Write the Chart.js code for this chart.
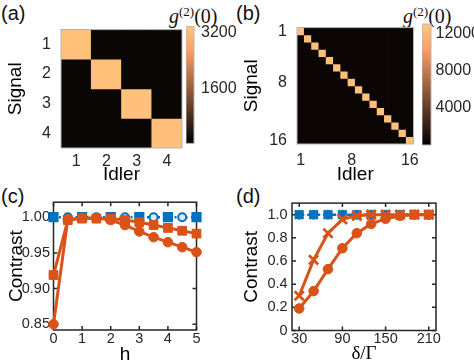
<!DOCTYPE html>
<html>
<head>
<meta charset="utf-8">
<script src="https://cdn.jsdelivr.net/npm/chart.js@4.4.0/dist/chart.umd.min.js"></script>
<style>
  html, body { margin: 0; padding: 0; background: #fff; }
  body { width: 474px; height: 364px; position: relative; overflow: hidden; font-family: "Liberation Sans", Arial, sans-serif; }
  canvas { position: absolute; }
  .lbl { position: absolute; font-size: 20px; line-height: 1; color: #111; }
  .g2 { position: absolute; font-family: "Liberation Serif", serif; font-size: 20px; line-height: 1; color: #111; white-space: nowrap; }
  .g2 sup { font-size: 13px; vertical-align: 7px; }
</style>
</head>
<body>
<div class="lbl" style="left:1px;top:3px">(a)</div>
<div class="lbl" style="left:236px;top:3px">(b)</div>
<div class="lbl" style="left:1px;top:186px">(c)</div>
<div class="lbl" style="left:236px;top:186px">(d)</div>
<div class="g2" style="left:169px;top:5px"><i>g</i><sup>(2)</sup>(0)</div>
<div class="g2" style="left:403px;top:5px"><i>g</i><sup>(2)</sup>(0)</div>

<canvas id="heatA" width="195" height="180" style="left:0;top:10px"></canvas>
<canvas id="cbarA" width="56" height="150" style="left:186px;top:10px"></canvas>
<canvas id="heatB" width="190" height="182" style="left:236px;top:8px"></canvas>
<canvas id="cbarB" width="52" height="152" style="left:422px;top:8px"></canvas>
<canvas id="lineC" width="205" height="174" style="left:0;top:190px"></canvas>
<canvas id="lineD" width="210" height="174" style="left:236px;top:190px"></canvas>

<script>
// ---- data (a): 4x4 g2 map
const idlerA = ['1', '2', '3', '4'];
const signalA = [1, 2, 3, 4];
const diagA = [3260, 3250, 3270, 3240];
const offA = 120;
const cbarMaxA = 3380;
const cbarTicksA = [1600, 3200];

// ---- data (b): 16x16 g2 map
const idlerB = ['1','2','3','4','5','6','7','8','9','10','11','12','13','14','15','16'];
const signalB = [1,2,3,4,5,6,7,8,9,10,11,12,13,14,15,16];
const diagB = [12500,12450,12550,12500,12480,12520,12500,12460,12540,12500,12490,12510,12470,12530,12500,12480];
const offB = 480;
const cbarMaxB = 13000;
const cbarTicksB = [4000, 8000, 12000];
const showIdlerB = ['1', '8', '16'];
const signalTicksB = [1, 8, 16];

// ---- data (c): contrast vs h
const hVals = [0, 0.5, 1, 1.5, 2, 2.5, 3, 3.5, 4, 4.5, 5];
const contrastSqC = [0.919, 0.996, 0.998, 0.998, 0.998, 0.996, 0.993, 0.989, 0.985, 0.981, 0.977];
const contrastCirC = [0.850, 0.997, 0.999, 0.999, 0.996, 0.989, 0.980, 0.972, 0.965, 0.958, 0.951];
const contrastBlueC = [1, 1, 1, 1, 1, 1, 1, 1, 1, 1, 1];
const yTicksC = [0.85, 0.90, 0.95, 1.00];
const xTicksC = [0, 1, 2, 3, 4, 5];

// ---- data (d): contrast vs delta/Gamma
const deltaVals = [30, 50, 70, 90, 110, 130, 150, 170, 190, 210];
const contrastXD = [0.30, 0.61, 0.84, 0.96, 0.99, 1.0, 1.0, 1.0, 1.0, 1.0];
const contrastCirD = [0.19, 0.34, 0.53, 0.71, 0.84, 0.92, 0.965, 0.99, 1.0, 1.0];
const contrastBlueD = [1, 1, 1, 1, 1, 1, 1, 1, 1, 1];
const yTicksD = [0, 0.2, 0.4, 0.6, 0.8, 1.0];
const xTicksD = [30, 90, 150, 210];

const ORANGE = '#D95319';
const BLUE = '#0072BD';
const INK = '#262626';
const SANS = '"Liberation Sans", Arial, sans-serif';

// matlab copper colormap
function copper(t) {
  t = Math.max(0, Math.min(1, t));
  const r = Math.min(1, 1.25 * t), g = 0.7812 * t, b = 0.4975 * t;
  return `rgb(${Math.round(r * 255)},${Math.round(g * 255)},${Math.round(b * 255)})`;
}

function buildMatrix(diag, off) {
  return diag.map((d, r) => diag.map((_, c) => (r === c ? d : off)));
}

// fill behind the cells so anti-aliased seams don't show white
const areaFill = {
  id: 'areaFill',
  beforeDatasetsDraw(chart, args, opts) {
    if (!opts.color) return;
    const { ctx, chartArea: a } = chart;
    ctx.save();
    ctx.fillStyle = opts.color;
    ctx.fillRect(a.left, a.top, a.right - a.left, a.bottom - a.top);
    ctx.restore();
  }
};

// box round the plot area, optional inward ticks
const framePlugin = {
  id: 'frame',
  beforeDatasetsDraw(chart, args, opts) { if (!opts.onTop) drawFrame(chart, opts); },
  afterDatasetsDraw(chart, args, opts) { if (opts.onTop) drawFrame(chart, opts); }
};
function drawFrame(chart, opts) {
  const { ctx, chartArea: a } = chart;
  ctx.save();
  ctx.strokeStyle = opts.color || INK;
  ctx.lineWidth = opts.width || 1;
  ctx.strokeRect(a.left, a.top, a.right - a.left, a.bottom - a.top);
  if (opts.ticks) {
    const len = opts.ticks, xs = chart.scales.x, ys = chart.scales.y;
    ctx.beginPath();
    xs.ticks.forEach(t => {
      const px = xs.getPixelForValue(t.value);
      ctx.moveTo(px, a.bottom); ctx.lineTo(px, a.bottom - len);
      ctx.moveTo(px, a.top); ctx.lineTo(px, a.top + len);
    });
    ys.ticks.forEach(t => {
      const py = ys.getPixelForValue(t.value);
      ctx.moveTo(a.left, py); ctx.lineTo(a.left + len, py);
      ctx.moveTo(a.right, py); ctx.lineTo(a.right - len, py);
    });
    ctx.stroke();
  }
  ctx.restore();
}

const noGrid = { display: false, drawTicks: false };

function heatChart(id, idlers, signals, matrix, vmax, sigTicks, showIdler, offVal, o) {
  const n = signals.length;
  const datasets = signals.map((s, r) => ({
    data: idlers.map(() => [s - 0.5, s + 0.5]),
    backgroundColor: matrix[r].map(v => copper(v / vmax)),
    borderWidth: 0, grouped: false, barPercentage: 1, categoryPercentage: 1
  }));
  new Chart(document.getElementById(id), {
    type: 'bar',
    data: { labels: idlers, datasets },
    options: {
      responsive: false, animation: false,
      layout: { padding: o.layout },
      plugins: {
        legend: { display: false }, tooltip: { enabled: false },
        areaFill: { color: copper(offVal / vmax) },
        frame: { color: '#b5b5b5', width: 1, onTop: true }
      },
      scales: {
        x: {
          grid: noGrid, border: { display: false },
          ticks: { color: INK, font: { family: SANS, size: 16 }, padding: o.xPad, autoSkip: false, maxRotation: 0,
                   callback: (v, i) => (showIdler.includes(idlers[i]) ? idlers[i] : '') },
          title: { display: true, text: 'Idler', color: '#000', font: { family: SANS, size: 19 }, padding: { top: 0, bottom: 3.6 } },
          afterFit: s => { s.height = o.xh; }
        },
        y: {
          reverse: true, min: 0.5, max: n + 0.5,
          grid: noGrid, border: { display: false },
          afterBuildTicks: s => { s.ticks = sigTicks.map(v => ({ value: v })); },
          ticks: { color: INK, font: { family: SANS, size: 16 }, padding: 10, callback: v => String(v) },
          title: { display: true, text: 'Signal', color: '#000', font: { family: SANS, size: 19 }, padding: { top: 4, bottom: 0 } },
          afterFit: s => { s.width = o.yw; }
        }
      }
    },
    plugins: [areaFill, framePlugin]
  });
}

function colorbar(id, vmax, ticks, o) {
  new Chart(document.getElementById(id), {
    type: 'bar',
    data: {
      labels: [''],
      datasets: [{
        data: [[0, vmax]],
        backgroundColor: c => {
          const a = c.chart.chartArea;
          if (!a) return copper(0.5);
          const g = c.chart.ctx.createLinearGradient(0, a.bottom, 0, a.top);
          [0, 0.8, 1].forEach(t => g.addColorStop(t, copper(t)));
          return g;
        },
        borderWidth: 0, barPercentage: 1, categoryPercentage: 1
      }]
    },
    options: {
      responsive: false, animation: false,
      layout: { padding: o.layout },
      plugins: { legend: { display: false }, tooltip: { enabled: false }, frame: { color: '#b5b5b5', width: 1, onTop: true } },
      scales: {
        x: { display: false },
        y: {
          position: 'right', min: 0, max: vmax,
          grid: noGrid, border: { display: false },
          afterBuildTicks: s => { s.ticks = ticks.map(v => ({ value: v })); },
          ticks: { color: INK, font: { family: SANS, size: 16 }, padding: o.pad, callback: v => String(v) },
          afterFit: s => { s.width = o.yw; }
        }
      }
    },
    plugins: [framePlugin]
  });
}

function pts(xs, ys) { return xs.map((x, i) => ({ x, y: ys[i] })); }

function lineChart(id, datasets, o) {
  new Chart(document.getElementById(id), {
    type: 'line',
    data: { datasets },
    options: {
      responsive: false, animation: false,
      layout: { padding: o.layout },
      plugins: { legend: { display: false }, tooltip: { enabled: false }, frame: { color: INK, width: 1.5, ticks: 4 } },
      scales: {
        x: {
          type: 'linear', min: o.xmin, max: o.xmax,
          grid: noGrid, border: { display: false },
          afterBuildTicks: s => { s.ticks = o.xTicks.map(v => ({ value: v })); },
          ticks: { color: INK, font: { family: SANS, size: 14.5 }, padding: 0, callback: v => String(v) },
          title: { display: true, text: o.xTitle, color: '#000', font: o.xTitleFont, padding: { top: 0, bottom: 0 } },
          afterFit: s => { s.height = o.xh; }
        },
        y: {
          min: o.ymin, max: o.ymax,
          grid: noGrid, border: { display: false },
          afterBuildTicks: s => { s.ticks = o.yTicks.map(v => ({ value: v })); },
          ticks: { color: INK, font: { family: SANS, size: 14.5 }, padding: o.yPad, callback: o.yFmt },
          title: { display: true, text: 'Contrast', color: '#000', font: { family: SANS, size: 19 }, padding: { top: o.yTitlePad, bottom: 0 } },
          afterFit: s => { s.width = o.yw; }
        }
      }
    },
    plugins: [framePlugin]
  });
}

// (a) and (b) maps
heatChart('heatA', idlerA, signalA, buildMatrix(diagA, offA), cbarMaxA, signalA, idlerA, offA,
  { layout: { top: 16, right: 13, bottom: 0, left: 0 }, yw: 61, xh: 42, xPad: 4 });
colorbar('cbarA', cbarMaxA, cbarTicksA, { layout: { top: 16, bottom: 13, left: 0, right: 0 }, yw: 48, pad: 7 });

heatChart('heatB', idlerB, signalB, buildMatrix(diagB, offB), cbarMaxB, signalTicksB, showIdlerB, offB,
  { layout: { top: 16, right: 8, bottom: 0, left: 0 }, yw: 61, xh: 46, xPad: 7 });
colorbar('cbarB', cbarMaxB, cbarTicksB, { layout: { top: 16, bottom: 15, left: 0, right: 0 }, yw: 43, pad: 4.5 });

// (c)
lineChart('lineC', [
  { data: pts(hVals, contrastSqC), borderColor: ORANGE, borderWidth: 3, pointStyle: 'rect', pointRadius: 6.2,
    pointBackgroundColor: ORANGE, pointBorderColor: ORANGE, pointBorderWidth: 1, clip: false },
  { data: pts(hVals, contrastCirC), borderColor: ORANGE, borderWidth: 3, pointStyle: 'circle', pointRadius: 4.8,
    pointBackgroundColor: ORANGE, pointBorderColor: ORANGE, pointBorderWidth: 1, clip: false },
  { data: pts(hVals, contrastBlueC), borderColor: BLUE, borderWidth: 2.5, borderDash: [2, 3.5],
    pointStyle: c => (c.dataIndex % 2 ? 'circle' : 'rect'),
    pointRadius: c => (c.dataIndex % 2 ? 4 : 5.8),
    pointBackgroundColor: c => (c.dataIndex % 2 ? '#dfe9f4' : BLUE),
    pointBorderColor: BLUE, pointBorderWidth: 2, clip: false }
], {
  layout: { top: 12, right: 8.5, bottom: 0, left: 0 }, yw: 53.5, xh: 34,
  xmin: 0, xmax: 5, xTicks: xTicksC, ymin: 0.842, ymax: 1.021, yTicks: yTicksC,
  yFmt: v => v.toFixed(2), yPad: 3.5, yTitlePad: 5,
  xTitle: 'h', xTitleFont: { family: SANS, size: 19, lineHeight: 1 }
});

// (d)
lineChart('lineD', [
  { data: pts(deltaVals, contrastXD), borderColor: ORANGE, borderWidth: 3, pointStyle: 'crossRot', pointRadius: 6.5,
    pointBorderColor: ORANGE, pointBorderWidth: 2.8, clip: false },
  { data: pts(deltaVals, contrastCirD), borderColor: ORANGE, borderWidth: 3, pointStyle: 'circle', pointRadius: 4.8,
    pointBackgroundColor: ORANGE, pointBorderColor: ORANGE, pointBorderWidth: 1, clip: false },
  { data: pts(deltaVals, contrastBlueD), borderColor: BLUE, borderWidth: 2.5, borderDash: [5, 3],
    pointStyle: 'crossRot', pointRadius: 6, pointBorderColor: BLUE, pointBorderWidth: 2.5, clip: false },
  { data: pts(deltaVals, contrastBlueD), showLine: false, pointStyle: 'circle', pointRadius: 4.5,
    pointBackgroundColor: BLUE, pointBorderColor: BLUE, pointBorderWidth: 1, clip: false }
], {
  layout: { top: 12, right: 10, bottom: 0, left: 0 }, yw: 56, xh: 33.5,
  xmin: 20, xmax: 220, xTicks: xTicksD, ymin: 0, ymax: 1.1, yTicks: yTicksD,
  yFmt: v => (v === 0 ? '0' : v.toFixed(1)), yPad: 4.4, yTitlePad: 4,
  xTitle: 'δ/Γ', xTitleFont: { family: '"Liberation Serif", serif', size: 19, lineHeight: 1 }
});
</script>
</body>
</html>
